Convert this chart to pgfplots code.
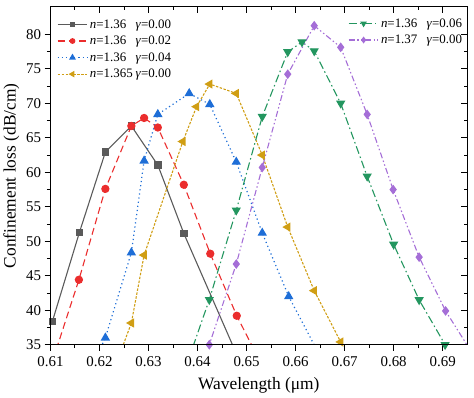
\documentclass[border=0pt]{standalone}
\usepackage{pgfplots}
\pgfplotsset{compat=1.18}
\usepackage{fontspec}
\setmainfont{Liberation Serif}
\definecolor{cgray}{RGB}{90,90,90}
\definecolor{cred}{RGB}{235,45,45}
\definecolor{cblue}{RGB}{30,110,215}
\definecolor{cgold}{RGB}{208,158,20}
\definecolor{cgreen}{RGB}{35,150,95}
\definecolor{cpurple}{RGB}{165,110,215}
\pgfplotsset{
 common/.style={
  scale only axis, width=419.3pt, height=340pt,
  xmin=0.61, xmax=0.695, ymin=35, ymax=84,
  xtick={0.61,0.62,0.63,0.64,0.65,0.66,0.67,0.68,0.69},
  ytick={35,40,45,50,55,60,65,70,75,80},
  minor x tick num=1, minor y tick num=1,
  major tick length=6pt, minor tick length=3.5pt,
  axis line style={line width=1pt},
  every tick/.style={black, line width=1pt},
 },
 leg/.style={legend image code/.code={\draw[mark repeat=2,mark phase=2,/tikz/every mark/.append style={scale=0.65}] plot coordinates {(0pt,0pt) (15pt,0pt) (30pt,0pt)};}},
 s1/.style={leg, cgray, solid, line width=1.1pt, mark=square*, mark size=3.2pt, mark options={solid}},
 s2/.style={leg, cred, line width=1.1pt, dash pattern=on 7pt off 4pt, mark=*, mark size=3.6pt, mark options={solid}},
 s3/.style={leg, cblue, line width=1.2pt, dash pattern=on 1.2pt off 3pt, mark=triangle*, mark size=4.3pt, mark options={solid}},
 s4/.style={leg, cgold, line width=1.1pt, dash pattern=on 2.5pt off 1.5pt, mark=triangle*, mark size=4.3pt, mark options={solid, rotate=90}},
 s5/.style={leg, cgreen, line width=1.1pt, dash pattern=on 8pt off 3pt on 1.5pt off 3pt, mark=triangle*, mark size=4.3pt, mark options={solid, rotate=180}},
 s6/.style={leg, cpurple, line width=1.1pt, dash pattern=on 6pt off 2.5pt on 1.5pt off 2.5pt on 1.5pt off 2.5pt, mark=diamond*, mark size=4pt, mark options={solid}},
}
\begin{document}
\begin{tikzpicture}
\path (-50.7pt,-52.7pt) rectangle (423.3pt,343.3pt);
\begin{axis}[common,
  xtick pos=left, ytick pos=left, tick align=outside,
  tick label style={font=\fontsize{15}{15}\selectfont, /pgf/number format/assume math mode=true},
  xticklabel style={yshift=-2pt, /pgf/number format/.cd, fixed, fixed zerofill, precision=2},
  label style={font=\fontsize{17.5}{18}\selectfont},
  xlabel style={yshift=-4pt},
  xlabel={Wavelength (μm)}, ylabel={Confinement loss (dB/cm)},
  legend style={font=\fontsize{13}{14}\selectfont, draw=none, fill=none,
    at={(0.008,0.975)}, anchor=north west, row sep=2.5pt, cells={anchor=west}},
]
\addplot[s1] coordinates {(0.6051,31.1) (0.6104,38.4) (0.6159,51.28) (0.6212,62.93) (0.6265,66.72) (0.6319,61.05) (0.6372,51.14) (0.6478,33.9)};
\addlegendentry{\makebox[46pt][l]{\textit{n}=1.36}\textit{γ}=0.00}
\addplot[s2] coordinates {(0.6105,32.8) (0.6158,44.42) (0.6212,57.6) (0.6265,66.72) (0.6291,67.88) (0.6319,66.5) (0.6372,58.2) (0.6426,48.2) (0.6480,39.2) (0.6533,31.8)};
\addlegendentry{\makebox[46pt][l]{\textit{n}=1.36}\textit{γ}=0.02}
\addplot[s3] coordinates {(0.6159,28) (0.6212,36.0) (0.6265,48.35) (0.6291,61.67) (0.6319,68.41) (0.6383,71.44) (0.6425,69.86) (0.6479,61.5) (0.6532,51.2) (0.6586,42.0) (0.6640,34.7)};
\addlegendentry{\makebox[46pt][l]{\textit{n}=1.36}\textit{γ}=0.04}
\addplot[s4] coordinates {(0.6212,28) (0.6265,38.15) (0.6291,48.0) (0.6370,64.47) (0.6398,69.52) (0.6425,72.8) (0.6479,71.44) (0.6532,62.5) (0.6584,52.06) (0.6638,42.84) (0.6692,35.4) (0.6746,30)};
\addlegendentry{\makebox[46pt][l]{\textit{n}=1.365}\textit{γ}=0.00}
\addplot[s5, forget plot] coordinates {(0.6370,30.5) (0.6424,41.53) (0.6479,54.5) (0.6532,68.08) (0.6584,77.46) (0.6613,78.9) (0.6638,77.6) (0.6692,70.0) (0.6746,59.42) (0.6800,49.55) (0.6852,41.5) (0.6905,35.0) (0.6958,29)};
\addplot[s6, forget plot] coordinates {(0.6370,25) (0.6424,35.0) (0.6479,46.7) (0.6532,60.7) (0.6584,74.23) (0.6638,81.26) (0.6692,78.13) (0.6746,68.4) (0.6799,57.5) (0.6852,47.7) (0.6906,39.9) (0.6960,33.8)};
\end{axis}
\begin{axis}[common,
  xtick pos=right, ytick pos=right, tick align=inside,
  xticklabels={}, yticklabels={},
  legend style={font=\fontsize{13}{14}\selectfont, draw=none, fill=none,
    at={(1.0,0.978)}, anchor=north east, row sep=2.5pt, cells={anchor=west}},
]
\addlegendimage{s5}
\addlegendentry{\makebox[46pt][l]{\textit{n}=1.36}\textit{γ}=0.06}
\addlegendimage{s6}
\addlegendentry{\makebox[46pt][l]{\textit{n}=1.37}\textit{γ}=0.00}
\end{axis}
\end{tikzpicture}
\end{document}
